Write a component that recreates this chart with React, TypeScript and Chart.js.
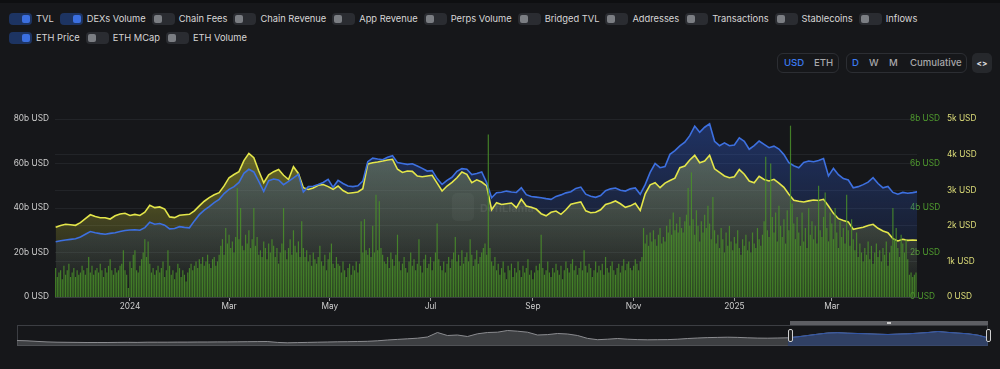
import React, { useEffect, useRef } from "react";
import { Chart, registerables } from "chart.js";

Chart.register(...registerables);

// ---------- data ----------
const START_DATE = "2023-11-17";
const LINE_STEP_DAYS = 3;

const X_TICK_DATES = ["2024-01-01", "2024-03-01", "2024-05-01", "2024-07-01", "2024-09-01", "2024-11-01", "2025-01-01", "2025-03-01"];
const X_TICK_LABELS = ["2024", "Mar", "May", "Jul", "Sep", "Nov", "2025", "Mar"];

const TVL_TICKS_B = [0, 20, 40, 60, 80];
const VOLUME_TICKS_B = [0, 2, 4, 6, 8];
const PRICE_TICKS_USD = [0, 1000, 2000, 3000, 4000, 5000];

// TVL (billions USD), one value every 3 days from START_DATE
const TVL_B = [
  24.8, 25.3, 25.6, 25.9, 26.2, 27.0, 28.2, 29.4, 28.9, 28.5,
  28.2, 28.6, 28.9, 29.4, 29.9, 30.1, 30.2, 30.0, 31.2, 33.6,
  32.7, 33.0, 32.3, 30.6, 30.8, 31.6, 31.3, 31.1, 34.2, 37.0,
  39.0, 40.6, 42.4, 43.9, 46.5, 48.4, 49.6, 51.5, 55.6, 57.4,
  56.2, 52.0, 47.5, 52.3, 53.0, 52.6, 50.5, 52.0, 53.5, 55.1,
  47.2, 49.6, 49.8, 50.6, 51.5, 52.9, 49.3, 52.4, 51.0, 49.9,
  49.6, 50.0, 52.1, 60.8, 62.4, 62.0, 61.7, 62.8, 63.5, 60.4,
  60.0, 59.6, 59.9, 58.9, 57.8, 56.6, 56.8, 53.2, 50.6, 52.4,
  53.8, 56.5, 57.7, 57.4, 55.0, 55.5, 56.2, 51.4, 44.6, 46.9,
  47.1, 47.6, 47.2, 47.0, 49.1, 46.0, 45.2, 44.9, 44.6, 44.2,
  43.9, 45.2, 45.9, 46.8, 47.3, 48.8, 49.4, 46.2, 45.3, 44.8,
  45.6, 47.8, 48.6, 49.0, 48.0, 47.6, 48.6, 49.0, 46.2, 50.5,
  56.0, 60.0, 58.1, 58.6, 64.1, 65.8, 67.9, 69.6, 72.5, 76.8,
  74.0, 76.3, 77.8, 70.0, 68.0, 69.3, 68.0, 68.3, 71.5, 70.0,
  66.4, 68.0, 70.1, 68.6, 67.1, 67.8, 66.5, 64.0, 60.4, 59.0,
  58.1, 60.5, 61.1, 60.8, 61.3, 62.2, 54.4, 57.8, 55.0, 53.2,
  52.6, 49.1, 49.6, 50.5, 51.6, 53.6, 51.0, 49.1, 49.7, 47.0,
  46.2, 47.0, 46.6, 46.9, 47.3,
];

// ETH price (USD), one value every 3 days from START_DATE
const ETH_PRICE_USD = [
  1960, 2010, 2042, 2030, 2014, 2090, 2200, 2310, 2260, 2228,
  2228, 2190, 2280, 2330, 2351, 2290, 2320, 2290, 2380, 2576,
  2510, 2530, 2470, 2250, 2230, 2295, 2310, 2323, 2420, 2560,
  2690, 2790, 2870, 2930, 3120, 3351, 3440, 3520, 3830, 4035,
  3913, 3539, 3211, 3430, 3520, 3580, 3420, 3300, 3660, 3470,
  3070, 3020, 3060, 3138, 3160, 3100, 3025, 3118, 2990, 2913,
  2930, 2950, 3042, 3740, 3772, 3790, 3820, 3850, 3868, 3587,
  3500, 3540, 3530, 3399, 3380, 3399, 3420, 3200, 2978, 3118,
  3220, 3350, 3511, 3447, 3211, 3290, 3230, 3118, 2450, 2650,
  2600, 2620, 2640, 2510, 2744, 2556, 2520, 2470, 2340, 2280,
  2380, 2416, 2323, 2450, 2604, 2640, 2669, 2420, 2368, 2380,
  2450, 2600, 2640, 2697, 2620, 2520, 2560, 2630, 2430, 2900,
  3150, 3211, 3070, 3200, 3270, 3340, 3632, 3680, 3850, 3980,
  3772, 3820, 3980, 3600, 3500, 3400, 3351, 3380, 3580, 3450,
  3258, 3211, 3390, 3300, 3258, 3306, 3200, 3080, 2885, 2720,
  2690, 2669, 2700, 2725, 2710, 2744, 2556, 2350, 2200, 2150,
  2110, 1902, 1930, 1960, 2010, 2042, 1930, 1854, 1806, 1640,
  1573, 1620, 1592, 1601, 1595,
];

// DEXs volume (billions USD), daily from START_DATE
const DEX_VOLUME_B = [
  1.3, 0.9, 1.1, 1.2, 0.8, 1.4, 1.0, 1.2, 1.5, 0.9,
  1.1, 1.3, 0.9, 1.2, 1.0, 1.1, 1.4, 1.2, 1.0, 1.3,
  1.8, 1.1, 1.4, 1.0, 1.2, 1.3, 1.1, 1.5, 1.2, 0.9,
  1.3, 1.1, 1.4, 1.7, 1.2, 1.0, 1.3, 1.1, 1.2, 1.4,
  1.5, 2.1, 1.2, 1.0, 0.4, 1.6, 1.3, 1.9, 2.1, 1.2,
  1.1, 1.4, 1.7, 2.0, 2.6, 1.8, 2.5, 1.5, 1.1, 1.3,
  1.0, 1.2, 1.4, 1.1, 1.3, 1.6, 0.9, 1.2, 2.1, 1.4,
  1.0, 1.2, 0.8, 1.1, 1.5, 1.3, 0.9, 1.2, 1.0, 0.7,
  1.1, 1.3, 1.5, 1.2, 1.4, 1.6, 1.3, 1.7, 1.5, 1.8,
  1.4, 1.6, 1.9, 1.5, 1.3, 1.7, 1.8, 1.4, 1.6, 1.9,
  2.3, 2.6, 1.9, 3.1, 2.4, 2.8, 2.2, 2.5, 2.0, 2.7,
  4.9, 2.6, 4.0, 2.3, 2.1, 2.8, 2.4, 3.0, 2.2, 2.6,
  4.0, 2.3, 2.7, 1.9, 2.1, 1.8, 2.5, 2.2, 1.7, 2.4,
  2.0, 2.6, 2.3, 1.8, 2.2, 1.5, 2.0, 2.4, 4.0, 2.1,
  1.7, 2.2, 2.6, 1.9, 3.0, 2.3, 2.0, 2.5, 1.8, 3.4,
  2.2, 1.8, 2.1, 1.6, 1.9, 1.4, 2.0, 1.7, 1.5, 1.8,
  2.3, 1.6, 1.4, 1.9, 1.2, 1.7, 2.0, 2.4, 1.5, 1.3,
  1.8, 1.5, 1.4, 1.1, 1.6, 1.2, 0.9, 1.3, 1.5, 1.0,
  1.4, 1.2, 1.6, 1.1, 1.5, 3.4, 2.0, 3.5, 2.1, 1.9,
  2.2, 1.8, 3.2, 2.0, 4.6, 2.1, 4.3, 2.2, 1.9, 1.6,
  1.5, 1.8, 1.3, 2.0, 1.7, 1.4, 1.9, 2.8, 1.6, 1.2,
  1.5, 1.8, 1.3, 1.1, 1.6, 2.0, 1.4, 1.7, 1.2, 1.5,
  2.6, 1.4, 1.1, 1.7, 1.9, 1.3, 1.5, 1.8, 1.2, 1.6,
  2.0, 3.3, 1.7, 1.4, 1.2, 1.6, 1.1, 1.5, 1.8, 1.3,
  1.7, 2.0, 2.7, 1.6, 1.9, 1.4, 2.1, 1.5, 1.8, 2.0,
  1.6, 2.6, 1.9, 1.4, 1.7, 2.1, 1.5, 1.8, 2.0, 2.2,
  2.4, 1.9, 7.3, 2.2, 1.6, 1.4, 1.8, 1.2, 1.5, 1.0,
  1.3, 1.6, 1.1, 0.8, 1.4, 1.2, 1.5, 0.9, 1.3, 1.1,
  1.6, 1.2, 0.9, 1.4, 1.1, 1.3, 1.7, 1.0, 1.2, 0.8,
  1.1, 1.4, 1.2, 1.5, 2.8, 1.3, 1.0, 1.2, 1.6, 1.1,
  0.9, 1.3, 1.1, 1.5, 1.2, 1.0, 1.4, 0.8, 1.2, 1.6,
  1.3, 1.1, 1.5, 1.7, 1.2, 1.4, 1.0, 1.3, 1.6, 1.2,
  2.1, 1.4, 1.1, 1.5, 1.3, 0.9, 1.2, 1.6, 1.1, 1.4,
  1.2, 1.5, 1.0, 1.8, 1.3, 1.1, 1.4, 1.6, 1.2, 1.0,
  1.3, 1.5, 1.1, 1.4, 1.7, 1.2, 1.5, 1.6, 1.3, 1.2,
  1.4, 1.7, 1.5, 1.2, 1.6, 1.8, 3.1, 2.4, 2.8, 2.3,
  2.9, 2.5, 3.0, 2.6, 2.3, 2.8, 3.1, 2.4, 2.7, 2.5,
  3.2, 2.9, 3.5, 2.8, 3.8, 3.0, 3.3, 2.9, 3.6, 3.1,
  2.9, 3.4, 3.7, 4.9, 3.2, 5.6, 3.5, 2.8, 3.9, 3.2,
  2.5, 3.4, 2.9, 3.7, 3.1, 4.1, 3.3, 2.6, 4.5, 3.0,
  2.4, 2.8, 2.2, 3.1, 2.6, 2.0, 2.9, 2.3, 3.2, 2.5,
  2.1, 2.7, 2.4, 3.0, 2.2, 1.9, 2.6, 2.3, 2.8, 2.1,
  2.5, 2.0, 2.9, 2.4, 2.2, 3.1, 2.6, 2.3, 2.8, 3.4,
  6.3, 3.0, 2.7, 6.0, 3.6, 2.9, 3.8, 2.5, 4.1, 3.2,
  2.7, 3.5, 2.4, 3.9, 3.0, 7.7, 4.2, 3.3, 2.6, 3.6,
  2.9, 2.3, 3.8, 2.5, 3.1, 2.2, 4.0, 2.8, 3.4, 2.6,
  3.2, 2.4, 5.0, 3.0, 2.7, 3.6, 4.7, 3.1, 2.5, 3.8,
  3.3, 2.6, 4.0, 2.9, 2.2, 3.4, 2.7, 3.1, 2.4, 4.6,
  3.0, 2.3, 3.5, 2.6, 2.1, 2.9, 1.8, 2.4, 2.0, 1.6,
  2.2, 1.9, 2.5, 1.7, 2.3, 1.5, 2.0, 2.4, 1.8, 2.1,
  1.6, 2.2, 1.9, 2.5, 1.4, 2.0, 2.3, 4.0, 2.6, 3.1,
  2.2, 1.8, 2.8, 2.4, 2.0, 2.6, 1.7, 1.0, 1.1, 0.9,
  1.0, 1.1,
];

// Overview (data-zoom) series, relative units, evenly spaced over the full history
const OVERVIEW_TVL = [
  5.5, 5.2, 4.6, 4.1, 3.8, 3.7, 3.6, 3.5, 3.5, 3.5,
  3.6, 3.7, 3.6, 3.8, 3.8, 3.8, 3.9, 3.9, 4.0, 4.0,
  4.1, 4.1, 4.2, 4.3, 4.4, 4.5, 3.6, 3.2, 3.4, 3.6,
  3.8, 4.0, 4.2, 4.3, 4.5, 4.7, 5.2, 6.0, 6.6, 7.2,
  7.8, 9.0, 13.5, 10.5, 11.0, 9.5, 12.2, 13.5, 13.8, 15.5,
  14.8, 13.8, 11.0, 11.4, 12.5, 12.0, 10.5, 7.6, 6.3, 6.8,
  7.5, 6.8, 6.4, 6.2, 6.3, 6.4, 6.8, 7.5, 8.0, 8.4,
  8.6, 8.8, 8.6, 8.2, 7.9, 7.8, 8.0, 8.2, 9.2, 10.5,
  11.8, 13.0, 13.3, 12.8, 12.5, 12.2, 11.8, 11.5, 11.9, 12.2,
  12.8, 13.5, 14.5, 13.6, 12.9, 12.2, 10.8, 8.2,
];
const OVERVIEW_SELECTED_FROM = 77;

const METRICS_ROW1 = ["TVL", "DEXs Volume", "Chain Fees", "Chain Revenue", "App Revenue", "Perps Volume", "Bridged TVL", "Addresses", "Transactions", "Stablecoins", "Inflows"];
const METRICS_ROW2 = ["ETH Price", "ETH MCap", "ETH Volume"];
const METRICS_ON = ["TVL", "DEXs Volume", "ETH Price"];

// ---------- helpers ----------
const DAY_MS = 86400000;
const dayOf = (d: string) => Math.round((Date.parse(d) - Date.parse(START_DATE)) / DAY_MS);
const fmtB = (v: number) => (v === 0 ? "0 USD" : `${v}b USD`);
const fmtK = (v: number) => (v === 0 ? "0 USD" : `${v / 1000}k USD`);

const BG = "#16171a";
const GRID = "#222428";
const FONT = "Inter";
const AXIS_FONT = { family: FONT, size: 8.3 };

function vGrad(chart: any, top: number, bottom: number, stops: [number, string][]) {
  const g = chart.ctx.createLinearGradient(0, top, 0, bottom);
  stops.forEach(([o, c]) => g.addColorStop(o, c));
  return g;
}

const noPad = (s: any) => {
  s.paddingTop = 0;
  s.paddingBottom = 0;
};

function MainChart() {
  const ref = useRef<HTMLCanvasElement | null>(null);
  useEffect(() => {
    if (!ref.current) return;
    const xTicks = X_TICK_DATES.map(dayOf);
    const lastDay = DEX_VOLUME_B.length - 1;
    const tvlPts = TVL_B.map((v, i) => ({ x: i * LINE_STEP_DAYS, y: v }));
    const pricePts = ETH_PRICE_USD.map((v, i) => ({ x: i * LINE_STEP_DAYS, y: v }));
    const volPts = DEX_VOLUME_B.map((v, i) => ({ x: i, y: v }));

    const chart = new Chart(ref.current, {
      type: "bar",
      data: {
        datasets: [
          {
            type: "bar",
            label: "DEXs Volume",
            data: volPts as any,
            yAxisID: "yVol",
            backgroundColor: "rgba(74,145,42,0.85)",
            borderWidth: 0,
            barPercentage: 0.72,
            categoryPercentage: 1,
            order: 0,
          },
          {
            type: "line",
            label: "TVL",
            data: tvlPts as any,
            yAxisID: "y",
            borderColor: "#3d70e0",
            borderWidth: 1.6,
            pointRadius: 0,
            tension: 0,
            fill: "origin",
            backgroundColor: (ctx: any) => {
              const ch = ctx.chart;
              const a = ch.chartArea;
              if (!a) return "transparent";
              const top = ch.scales.y.getPixelForValue(Math.max(...TVL_B));
              return vGrad(ch, top, a.bottom, [
                [0, "rgba(45,88,200,0.42)"],
                [1, "rgba(45,88,200,0.0)"],
              ]);
            },
            order: 1,
          } as any,
          {
            type: "line",
            label: "ETH Price",
            data: pricePts as any,
            yAxisID: "yPrice",
            borderColor: "#e4e64a",
            borderWidth: 1.6,
            pointRadius: 0,
            tension: 0,
            fill: "origin",
            backgroundColor: (ctx: any) => {
              const ch = ctx.chart;
              const a = ch.chartArea;
              if (!a) return "transparent";
              const top = ch.scales.yPrice.getPixelForValue(Math.max(...ETH_PRICE_USD));
              return vGrad(ch, top, a.bottom, [
                [0, "rgba(215,215,60,0.42)"],
                [1, "rgba(215,215,60,0.0)"],
              ]);
            },
            order: 2,
          } as any,
        ],
      },
      options: {
        responsive: false,
        animation: false,
        events: [],
        layout: { padding: { top: 19, bottom: 3, left: 0, right: 0 } },
        plugins: {
          legend: { display: false },
          tooltip: { enabled: false },
          filler: { drawTime: "beforeDatasetsDraw" } as any,
        },
        scales: {
          x: {
            type: "linear",
            offset: false,
            min: -0.4,
            max: lastDay + 0.6,
            afterBuildTicks: (s: any) => {
              s.ticks = xTicks.map((v) => ({ value: v }));
            },
            afterFit: (s: any) => {
              s.height = 20;
              s.paddingLeft = 0;
              s.paddingRight = 0;
            },
            ticks: {
              autoSkip: false,
              maxRotation: 0,
              padding: 1,
              color: "#cfcfcf",
              font: AXIS_FONT,
              callback: (v: any) => X_TICK_LABELS[xTicks.indexOf(Number(v))] ?? "",
            },
            grid: { display: true, drawOnChartArea: false, drawTicks: true, tickLength: 4, color: "#9a9a9a", offset: false },
            border: { display: true, color: "#3a3c41" },
          },
          y: {
            type: "linear",
            position: "left",
            min: TVL_TICKS_B[0],
            max: TVL_TICKS_B[TVL_TICKS_B.length - 1],
            afterBuildTicks: (s: any) => {
              s.ticks = TVL_TICKS_B.map((v) => ({ value: v }));
            },
            afterFit: (s: any) => {
              s.width = 55;
              noPad(s);
            },
            ticks: { padding: 6, color: "#cdcdcd", font: AXIS_FONT, callback: (v: any) => fmtB(Number(v)) },
            grid: { color: GRID, drawTicks: false, lineWidth: 1 },
            border: { display: false },
          },
          yVol: {
            type: "linear",
            position: "right",
            min: VOLUME_TICKS_B[0],
            max: VOLUME_TICKS_B[VOLUME_TICKS_B.length - 1],
            afterBuildTicks: (s: any) => {
              s.ticks = VOLUME_TICKS_B.map((v) => ({ value: v }));
            },
            afterFit: (s: any) => {
              s.width = 23;
              // left-aligned labels starting 7px inside the plot's right edge
              let widest = 30;
              try {
                widest = s._getLabelSizes().widest.width;
              } catch (e) {}
              s.options.ticks.padding = widest - 7;
              noPad(s);
            },
            ticks: { mirror: true, crossAlign: "far", padding: 24, color: "#4f9a2e", font: AXIS_FONT, callback: (v: any) => fmtB(Number(v)) },
            grid: { display: false },
            border: { display: false },
          },
          yPrice: {
            type: "linear",
            position: "right",
            min: PRICE_TICKS_USD[0],
            max: PRICE_TICKS_USD[PRICE_TICKS_USD.length - 1],
            afterBuildTicks: (s: any) => {
              s.ticks = PRICE_TICKS_USD.map((v) => ({ value: v }));
            },
            afterFit: (s: any) => {
              s.width = 60;
              noPad(s);
            },
            ticks: { padding: 7, color: "#dcdc78", font: AXIS_FONT, callback: (v: any) => fmtK(Number(v)) },
            grid: { color: GRID, drawTicks: false, lineWidth: 1 },
            border: { display: false },
          },
        },
      } as any,
    });
    return () => chart.destroy();
  }, []);
  return <canvas ref={ref} width={1000} height={220} style={{ position: "absolute", left: 0, top: 100, width: 1000, height: 220 }} />;
}

function OverviewChart() {
  const ref = useRef<HTMLCanvasElement | null>(null);
  useEffect(() => {
    if (!ref.current) return;
    const labels = OVERVIEW_TVL.map((_, i) => i);
    const selected = OVERVIEW_TVL.map((v, i) => (i >= OVERVIEW_SELECTED_FROM ? v : null));
    const chart = new Chart(ref.current, {
      type: "line",
      data: {
        labels,
        datasets: [
          {
            data: selected,
            borderColor: "#2f55aa",
            borderWidth: 1,
            pointRadius: 0,
            fill: "origin",
            backgroundColor: "rgba(38,66,130,0.55)",
            order: 0,
          },
          {
            data: OVERVIEW_TVL,
            borderColor: "#8b8c90",
            borderWidth: 1,
            pointRadius: 0,
            fill: "origin",
            backgroundColor: "rgba(95,96,100,0.55)",
            order: 1,
          },
        ],
      },
      options: {
        responsive: false,
        animation: false,
        events: [],
        layout: { padding: 0 },
        plugins: { legend: { display: false }, tooltip: { enabled: false } },
        scales: {
          x: { display: false, offset: false },
          y: { display: false, min: 0, max: 20 },
        },
      } as any,
    });
    return () => chart.destroy();
  }, []);
  return <canvas ref={ref} width={971} height={20} style={{ position: "absolute", left: 17, top: 326, width: 971, height: 20 }} />;
}

function Toggle({ label }: { label: string }) {
  const on = METRICS_ON.includes(label);
  return (
    <div style={{ display: "flex", alignItems: "center", marginRight: 6 }}>
      <div
        style={{
          width: 23,
          height: 12,
          borderRadius: 4,
          background: on ? "#1d3462" : "#2a2c31",
          position: "relative",
          boxSizing: "border-box",
        }}
      >
        <div
          style={{
            position: "absolute",
            top: 2,
            left: on ? 13 : 2,
            width: 8,
            height: 8,
            borderRadius: 2,
            background: on ? "#3b6fe0" : "#7b7e83",
          }}
        />
      </div>
      <span style={{ marginLeft: 4, fontSize: 9.3, color: "#d6d6d6", whiteSpace: "nowrap" }}>{label}</span>
    </div>
  );
}

const txt = (left: number, text: string, color: string) => (
  <span style={{ position: "absolute", left, top: 57, fontSize: 9.6, lineHeight: "12px", color, fontWeight: 500 }}>{text}</span>
);

export default function App() {
  return (
    <div
      style={{
        position: "absolute",
        left: 0,
        top: 0,
        width: 1000,
        height: 369,
        background: BG,
        fontFamily: FONT,
        overflow: "hidden",
      }}
    >
      <div style={{ position: "absolute", left: 0, top: 0, width: 1000, height: 3, background: "#0e0f11" }} />
      <div style={{ position: "absolute", left: 9, top: 9 }}>
        <div style={{ display: "flex", height: 19, alignItems: "center" }}>
          {METRICS_ROW1.map((m) => (
            <Toggle key={m} label={m} />
          ))}
        </div>
        <div style={{ display: "flex", height: 19, alignItems: "center" }}>
          {METRICS_ROW2.map((m) => (
            <Toggle key={m} label={m} />
          ))}
        </div>
      </div>

      <div style={{ position: "absolute", left: 777, top: 53, width: 62, height: 20, border: "1px solid #2c2e33", borderRadius: 6, boxSizing: "border-box" }} />
      <div style={{ position: "absolute", left: 846, top: 53, width: 121, height: 20, border: "1px solid #2c2e33", borderRadius: 6, boxSizing: "border-box" }} />
      <div
        style={{
          position: "absolute",
          left: 972,
          top: 53,
          width: 20,
          height: 20,
          borderRadius: 5,
          background: "#26282c",
          color: "#e0e0e0",
          fontSize: 8,
          lineHeight: "20px",
          textAlign: "center",
          fontWeight: 700,
        }}
      >
        {"<>"}
      </div>
      {txt(784, "USD", "#3b7af0")}
      {txt(814, "ETH", "#a8a8ab")}
      {txt(852, "D", "#3b7af0")}
      {txt(869, "W", "#a8a8ab")}
      {txt(889, "M", "#a8a8ab")}
      {txt(910, "Cumulative", "#a8a8ab")}

      <MainChart />

      {/* watermark */}
      <div style={{ position: "absolute", left: 452, top: 193, width: 22, height: 28, borderRadius: 5, background: "rgba(255,255,255,0.035)" }} />
      <span style={{ position: "absolute", left: 480, top: 201, fontSize: 11, fontWeight: 700, color: "rgba(255,255,255,0.08)" }}>DefiLlama</span>

      {/* data zoom */}
      <div style={{ position: "absolute", left: 17, top: 325, width: 971, height: 21, border: "1px solid #3c3e43", boxSizing: "border-box" }} />
      <OverviewChart />
      <div style={{ position: "absolute", left: 790, top: 321, width: 198, height: 4, background: "#5d5e63" }} />
      <div style={{ position: "absolute", left: 887, top: 322, width: 4, height: 2, background: "#c8c8c8" }} />
      <div style={{ position: "absolute", left: 788, top: 329, width: 5, height: 13, borderRadius: 2, border: "1px solid #d0d0d0", background: "#222", boxSizing: "border-box" }} />
      <div style={{ position: "absolute", left: 986, top: 329, width: 5, height: 13, borderRadius: 2, border: "1px solid #d0d0d0", background: "#222", boxSizing: "border-box" }} />
    </div>
  );
}
